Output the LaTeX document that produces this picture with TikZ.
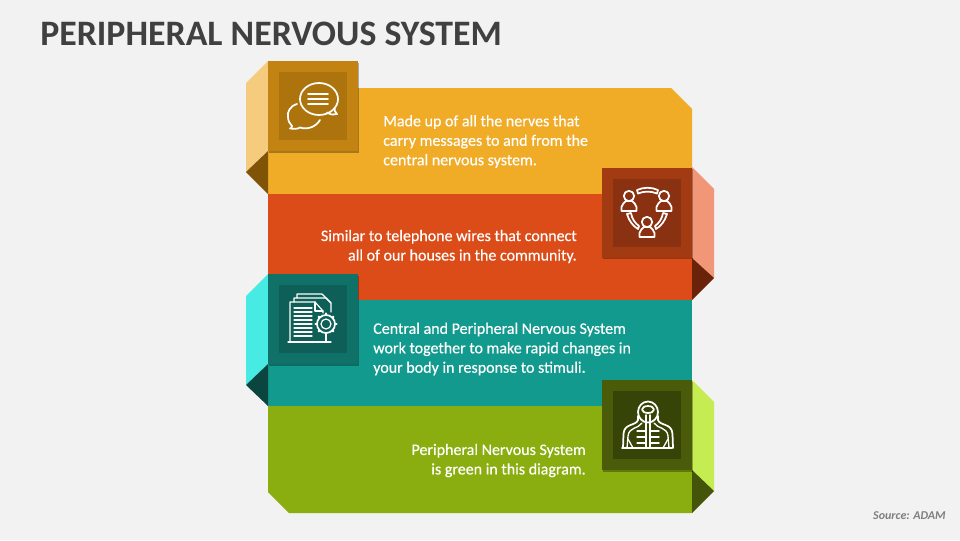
\documentclass[tikz,border=0pt]{standalone}
\usepackage{fontspec}
\setmainfont{Carlito}
\newfontfamily\bodyfont[RawFeature={embolden=0.4}]{Carlito}
\usepackage{xcolor}
\usetikzlibrary{shadows}
\definecolor{bgcol}{HTML}{F2F2F2}
\definecolor{titlecol}{HTML}{404040}
\definecolor{sourcecol}{HTML}{7F7F7F}
\definecolor{yellowband}{HTML}{F0AB27}
\definecolor{yellowsq}{HTML}{C28312}
\definecolor{yellowin}{HTML}{AD730D}
\definecolor{yellowlight}{HTML}{F5CB7E}
\definecolor{yellowdark}{HTML}{7F5407}
\definecolor{redband}{HTML}{DC4C18}
\definecolor{redsq}{HTML}{A23A12}
\definecolor{redin}{HTML}{8A3111}
\definecolor{redlight}{HTML}{F29678}
\definecolor{reddark}{HTML}{6A2209}
\definecolor{tealband}{HTML}{129A8E}
\definecolor{tealsq}{HTML}{0F7168}
\definecolor{tealin}{HTML}{0D5F58}
\definecolor{teallight}{HTML}{47EBE3}
\definecolor{tealdark}{HTML}{0A4540}
\definecolor{greenband}{HTML}{8AAE0F}
\definecolor{greensq}{HTML}{4A5C0A}
\definecolor{greenin}{HTML}{364408}
\definecolor{greenlight}{HTML}{C5EC50}
\definecolor{greendark}{HTML}{445408}
\tikzset{
	outerbox/.style={minimum size=67.5pt, inner sep=0pt, drop shadow={shadow xshift=1pt, shadow yshift=-1.2pt, opacity=.3, fill=black}},
	innerbox/.style={minimum size=51pt, inner sep=0pt},
	bodytext/.style={text=white, font=\bodyfont\fontsize{12}{14.6}\selectfont, inner sep=0pt},
	iconline/.style={draw=white, line width=1.3pt, line join=round, line cap=round}
}

\begin{document}
\begin{tikzpicture}[x=.75pt, y=-.75pt]
	\fill[bgcol] (0,0) rectangle (960,540);
	\node[anchor=west, inner sep=0pt, text=titlecol, font=\fontsize{26.85}{30}\selectfont\bfseries] (title) at (40,34) {PERIPHERAL NERVOUS SYSTEM};
	\node[anchor=east, inner sep=0pt, text=sourcecol, font=\fontsize{9}{10}\selectfont\bfseries\itshape] (source) at (946,516) {Source: ADAM};

	\fill[yellowband] (268,88) -- (671,88) -- (692,109) -- (692,194) -- (268,194) -- cycle;
	\fill[redband] (268,194) rectangle (692,300);
	\fill[tealband] (268,300) rectangle (692,406);
	\fill[greenband] (268,406) -- (692,406) -- (692,513) -- (289,513) -- (268,492) -- cycle;

	\fill[yellowlight] (268,61) -- (246,83) -- (246,172) -- (268,151) -- cycle;
	\fill[yellowdark] (246,172) -- (268,151) -- (268,194) -- cycle;
	\fill[redlight] (692,167) -- (714,189) -- (714,278) -- (692,258) -- cycle;
	\fill[reddark] (714,278) -- (692,258) -- (692,300) -- cycle;
	\fill[teallight] (268,274) -- (246,296) -- (246,385) -- (268,364) -- cycle;
	\fill[tealdark] (246,385) -- (268,364) -- (268,406) -- cycle;
	\fill[greenlight] (692,380) -- (714,402) -- (714,491) -- (692,470) -- cycle;
	\fill[greendark] (714,491) -- (692,470) -- (692,513) -- cycle;

	\node[outerbox, fill=yellowsq] (chatsq) at (313,106) {};
	\node[innerbox, fill=yellowin] (chatin) at (313,106) {};
	\node[outerbox, fill=redsq] (groupsq) at (647,212.5) {};
	\node[innerbox, fill=redin] (groupin) at (647,212.5) {};
	\node[outerbox, fill=tealsq] (docsq) at (313,319) {};
	\node[innerbox, fill=tealin] (docin) at (313,319) {};
	\node[outerbox, fill=greensq] (bodysq) at (647,425) {};
	\node[innerbox, fill=greenin] (bodyin) at (647,425) {};

	\node[bodytext, anchor=west, align=left] (texta) at (383,141.5) {Made up of all the nerves that\\carry messages to and from the\\central nervous system.};
	\node[bodytext, anchor=east, align=right] (textb) at (577,246.5) {Similar to telephone wires that connect\\all of our houses in the community.};
	\node[bodytext, anchor=west, align=left] (textc) at (373,349) {Central and Peripheral Nervous System\\work together to make rapid changes in\\your body in response to stimuli.};
	\node[bodytext, anchor=east, align=right] (textd) at (586,460.5) {Peripheral Nervous System\\is green in this diagram.};

	% chat icon
	\draw[iconline] (319,99) ellipse (19 and 16);
	\draw[iconline] (327,112.5) .. controls (331,115) and (334,115) .. (337,114) .. controls (335,112) and (334,110) .. (334.5,108);
	\foreach \y in {94,99,104}
		\draw[iconline] (308,\y) -- (328,\y);
	\draw[iconline] (297,104) .. controls (290,106) and (287,112) .. (288,117) .. controls (288,121) and (290,124) .. (292,126) .. controls (292,128) and (291,128) .. (290,128.5) .. controls (294,129) and (298,129) .. (300,127.5) .. controls (307,130) and (316,127) .. (320,120);

	% group icon
	\foreach \px/\py in {629/196, 664/196, 647/222} {
		\draw[iconline] (\px,\py) circle (5.2);
		\draw[iconline] (\px-7.5,\py+15) -- (\px-7.5,\py+11) .. controls (\px-7.5,\py+7.5) and (\px-4,\py+7) .. (\px-3,\py+5) -- (\px+3,\py+5) .. controls (\px+4,\py+7) and (\px+7.5,\py+7.5) .. (\px+7.5,\py+11) -- (\px+7.5,\py+15) -- cycle;
	}
	\draw[iconline] (637,190) .. controls (644,187) and (651,187) .. (658,190) -- (657,193.5) .. controls (651,191) and (644,191) .. (638,193.5) -- cycle;
	\draw[iconline] (627,214) .. controls (629,221) and (633,226) .. (638,229) -- (639,226) .. controls (635,223) and (632,219) .. (631,213) -- cycle;
	\draw[iconline] (667,214) .. controls (665,221) and (661,226) .. (656,229) -- (655,226) .. controls (659,223) and (662,219) .. (663,213) -- cycle;

	% document icon
	\draw[iconline, line width=.9pt] (288,342) -- (331,342) (326,342) -- (326,334);
	\draw[iconline, line width=.9pt] (290,342) -- (290,302) -- (315,302) -- (323,311) -- (323,313);
	\draw[iconline, line width=.9pt] (315,302) -- (315,311) -- (323,311);
	\draw[iconline, line width=.9pt] (294,302) -- (294,298) -- (326,298) -- (331,303) -- (331,312);
	\draw[iconline, line width=.9pt] (297,298) -- (297,294) -- (322,294) -- (331,303);
	\foreach \y in {308,312,316,320,324,328,332,336}
		\draw[iconline, line width=.9pt] (294,\y) -- (312,\y);
	\draw[iconline, fill=tealin] (326,324) circle (9);
	\foreach \a in {0,45,...,315}
		\draw[iconline, line width=1.6pt] (326,324)++(\a:9) -- ++(\a:1.5);
	\draw[iconline, line width=.9pt] (326,324) circle (5);

	% body icon
	\draw[iconline] (648,412) ellipse (10 and 10.5);
	\draw[iconline] (648,409.5) ellipse (6 and 3.5);
	\draw[iconline] (622,448) -- (672,448);
	\draw[iconline, fill=greenin] (646,415) -- (646,448) (650,415) -- (650,448);
	\foreach \s in {-1,1} {
		\draw[iconline] (648+\s*10,416) -- (648+\s*10,420) .. controls (648+\s*12,426) and (648+\s*24,423) .. (648+\s*24.5,434) -- (648+\s*25,448);
		\draw[iconline, line width=1pt] (648+\s*6,423) .. controls (648+\s*10,429) and (648+\s*19,427) .. (648+\s*20,436) -- (648+\s*21,448);
		\draw[iconline, line width=1pt] (648+\s*20,439) -- (648+\s*15,448);
		\foreach \y in {431,437,443}
			\draw[iconline, line width=1pt] (648+\s*2,\y) -- (648+\s*11,\y);
	}
\end{tikzpicture}
\end{document}
